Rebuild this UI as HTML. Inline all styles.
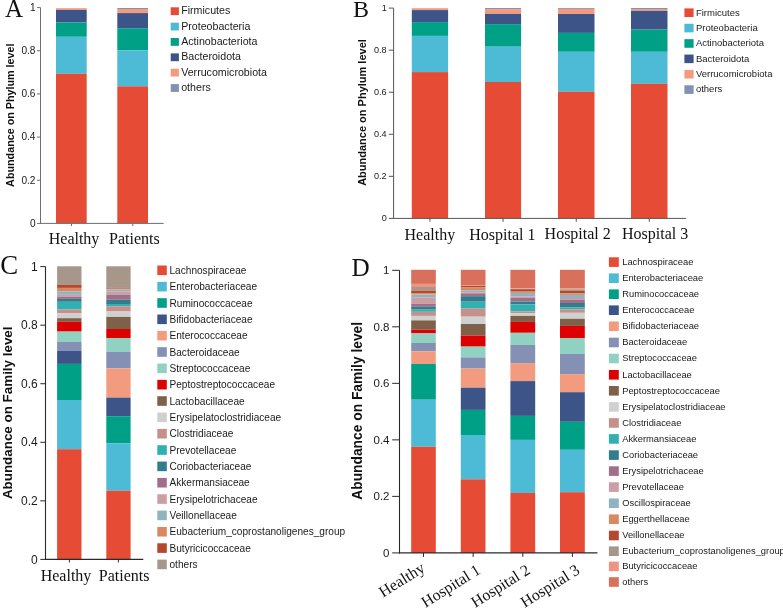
<!DOCTYPE html>
<html><head><meta charset="utf-8"><style>
html,body{margin:0;padding:0;background:#fff;overflow:hidden}
svg{display:block;will-change:transform}
</style></head><body>
<svg width="783" height="608" viewBox="0 0 783 608">
<rect x="0" y="0" width="783" height="608" fill="#fff"/>
<rect x="56.00" y="8.00" width="30.70" height="0.30" fill="#8491B4"/>
<rect x="56.00" y="8.30" width="30.70" height="1.70" fill="#F39B7F"/>
<rect x="56.00" y="10.00" width="30.70" height="12.40" fill="#3C5488"/>
<rect x="56.00" y="22.40" width="30.70" height="14.40" fill="#00A087"/>
<rect x="56.00" y="36.80" width="30.70" height="37.00" fill="#4DBBD5"/>
<rect x="56.00" y="73.80" width="30.70" height="149.60" fill="#E64B35"/>
<rect x="117.30" y="8.00" width="30.70" height="1.00" fill="#8491B4"/>
<rect x="117.30" y="9.00" width="30.70" height="4.10" fill="#F39B7F"/>
<rect x="117.30" y="13.10" width="30.70" height="15.10" fill="#3C5488"/>
<rect x="117.30" y="28.20" width="30.70" height="22.10" fill="#00A087"/>
<rect x="117.30" y="50.30" width="30.70" height="36.00" fill="#4DBBD5"/>
<rect x="117.30" y="86.30" width="30.70" height="137.10" fill="#E64B35"/>
<line x1="40.50" y1="7.60" x2="40.50" y2="223.90" stroke="#6e6e6e" stroke-width="1"/>
<line x1="40.00" y1="223.40" x2="163.70" y2="223.40" stroke="#6e6e6e" stroke-width="1"/>
<line x1="37.00" y1="223.40" x2="40.50" y2="223.40" stroke="#6e6e6e" stroke-width="1"/>
<text x="35.50" y="226.80" font-family="Liberation Sans" font-size="10.1" font-weight="400" text-anchor="end" fill="#1a1a1a" >0</text>
<line x1="37.00" y1="180.24" x2="40.50" y2="180.24" stroke="#6e6e6e" stroke-width="1"/>
<text x="35.50" y="183.64" font-family="Liberation Sans" font-size="10.1" font-weight="400" text-anchor="end" fill="#1a1a1a" >0.2</text>
<line x1="37.00" y1="137.08" x2="40.50" y2="137.08" stroke="#6e6e6e" stroke-width="1"/>
<text x="35.50" y="140.48" font-family="Liberation Sans" font-size="10.1" font-weight="400" text-anchor="end" fill="#1a1a1a" >0.4</text>
<line x1="37.00" y1="93.92" x2="40.50" y2="93.92" stroke="#6e6e6e" stroke-width="1"/>
<text x="35.50" y="97.32" font-family="Liberation Sans" font-size="10.1" font-weight="400" text-anchor="end" fill="#1a1a1a" >0.6</text>
<line x1="37.00" y1="50.76" x2="40.50" y2="50.76" stroke="#6e6e6e" stroke-width="1"/>
<text x="35.50" y="54.16" font-family="Liberation Sans" font-size="10.1" font-weight="400" text-anchor="end" fill="#1a1a1a" >0.8</text>
<line x1="37.00" y1="7.60" x2="40.50" y2="7.60" stroke="#6e6e6e" stroke-width="1"/>
<text x="35.50" y="11.00" font-family="Liberation Sans" font-size="10.1" font-weight="400" text-anchor="end" fill="#1a1a1a" >1</text>
<line x1="71.50" y1="223.40" x2="71.50" y2="226.00" stroke="#6e6e6e" stroke-width="1"/>
<line x1="132.80" y1="223.40" x2="132.80" y2="226.00" stroke="#6e6e6e" stroke-width="1"/>
<text x="74.05" y="243.60" font-family="Liberation Serif" font-size="16" font-weight="400" text-anchor="middle" fill="#111" >Healthy</text>
<text x="134.40" y="243.80" font-family="Liberation Serif" font-size="16" font-weight="400" text-anchor="middle" fill="#111" >Patients</text>
<text x="14.30" y="115.20" font-family="Liberation Sans" font-size="10.75" font-weight="700" text-anchor="middle" fill="#111" transform="rotate(-90 14.3 115.2)">Abundance on Phylum level</text>
<text x="5.00" y="17.40" font-family="Liberation Serif" font-size="25" font-weight="400" text-anchor="start" fill="#111" >A</text>
<rect x="170.70" y="7.30" width="8.20" height="7.80" fill="#E64B35"/>
<text x="181.20" y="14.30" font-family="Liberation Sans" font-size="10.65" font-weight="400" text-anchor="start" fill="#1a1a1a" >Firmicutes</text>
<rect x="170.70" y="22.66" width="8.20" height="7.80" fill="#4DBBD5"/>
<text x="181.20" y="29.66" font-family="Liberation Sans" font-size="10.65" font-weight="400" text-anchor="start" fill="#1a1a1a" >Proteobacteria</text>
<rect x="170.70" y="38.02" width="8.20" height="7.80" fill="#00A087"/>
<text x="181.20" y="45.02" font-family="Liberation Sans" font-size="10.65" font-weight="400" text-anchor="start" fill="#1a1a1a" >Actinobacteriota</text>
<rect x="170.70" y="53.38" width="8.20" height="7.80" fill="#3C5488"/>
<text x="181.20" y="60.38" font-family="Liberation Sans" font-size="10.65" font-weight="400" text-anchor="start" fill="#1a1a1a" >Bacteroidota</text>
<rect x="170.70" y="68.74" width="8.20" height="7.80" fill="#F39B7F"/>
<text x="181.20" y="75.74" font-family="Liberation Sans" font-size="10.65" font-weight="400" text-anchor="start" fill="#1a1a1a" >Verrucomicrobiota</text>
<rect x="170.70" y="84.10" width="8.20" height="7.80" fill="#8491B4"/>
<text x="181.20" y="91.10" font-family="Liberation Sans" font-size="10.65" font-weight="400" text-anchor="start" fill="#1a1a1a" >others</text>
<rect x="411.80" y="8.00" width="36.30" height="0.25" fill="#8491B4"/>
<rect x="411.80" y="8.25" width="36.30" height="1.85" fill="#F39B7F"/>
<rect x="411.80" y="10.10" width="36.30" height="12.00" fill="#3C5488"/>
<rect x="411.80" y="22.10" width="36.30" height="13.80" fill="#00A087"/>
<rect x="411.80" y="35.90" width="36.30" height="36.20" fill="#4DBBD5"/>
<rect x="411.80" y="72.10" width="36.30" height="146.30" fill="#E64B35"/>
<rect x="485.00" y="8.00" width="36.10" height="1.10" fill="#8491B4"/>
<rect x="485.00" y="9.10" width="36.10" height="4.80" fill="#F39B7F"/>
<rect x="485.00" y="13.90" width="36.10" height="10.20" fill="#3C5488"/>
<rect x="485.00" y="24.10" width="36.10" height="22.60" fill="#00A087"/>
<rect x="485.00" y="46.70" width="36.10" height="35.30" fill="#4DBBD5"/>
<rect x="485.00" y="82.00" width="36.10" height="136.40" fill="#E64B35"/>
<rect x="558.00" y="8.00" width="36.50" height="0.90" fill="#8491B4"/>
<rect x="558.00" y="8.90" width="36.50" height="5.10" fill="#F39B7F"/>
<rect x="558.00" y="14.00" width="36.50" height="18.90" fill="#3C5488"/>
<rect x="558.00" y="32.90" width="36.50" height="18.90" fill="#00A087"/>
<rect x="558.00" y="51.80" width="36.50" height="40.00" fill="#4DBBD5"/>
<rect x="558.00" y="91.80" width="36.50" height="126.60" fill="#E64B35"/>
<rect x="631.00" y="8.00" width="36.50" height="1.00" fill="#8491B4"/>
<rect x="631.00" y="9.00" width="36.50" height="1.80" fill="#F39B7F"/>
<rect x="631.00" y="10.80" width="36.50" height="18.80" fill="#3C5488"/>
<rect x="631.00" y="29.60" width="36.50" height="22.20" fill="#00A087"/>
<rect x="631.00" y="51.80" width="36.50" height="32.00" fill="#4DBBD5"/>
<rect x="631.00" y="83.80" width="36.50" height="134.60" fill="#E64B35"/>
<line x1="393.60" y1="8.10" x2="393.60" y2="218.90" stroke="#555555" stroke-width="1"/>
<line x1="393.10" y1="218.40" x2="685.90" y2="218.40" stroke="#555555" stroke-width="1"/>
<line x1="388.80" y1="218.40" x2="393.60" y2="218.40" stroke="#555555" stroke-width="1"/>
<text x="386.70" y="221.30" font-family="Liberation Sans" font-size="9.1" font-weight="400" text-anchor="end" fill="#1a1a1a" >0</text>
<line x1="388.80" y1="176.34" x2="393.60" y2="176.34" stroke="#555555" stroke-width="1"/>
<text x="386.70" y="179.24" font-family="Liberation Sans" font-size="9.1" font-weight="400" text-anchor="end" fill="#1a1a1a" >0.2</text>
<line x1="388.80" y1="134.28" x2="393.60" y2="134.28" stroke="#555555" stroke-width="1"/>
<text x="386.70" y="137.18" font-family="Liberation Sans" font-size="9.1" font-weight="400" text-anchor="end" fill="#1a1a1a" >0.4</text>
<line x1="388.80" y1="92.22" x2="393.60" y2="92.22" stroke="#555555" stroke-width="1"/>
<text x="386.70" y="95.12" font-family="Liberation Sans" font-size="9.1" font-weight="400" text-anchor="end" fill="#1a1a1a" >0.6</text>
<line x1="388.80" y1="50.16" x2="393.60" y2="50.16" stroke="#555555" stroke-width="1"/>
<text x="386.70" y="53.06" font-family="Liberation Sans" font-size="9.1" font-weight="400" text-anchor="end" fill="#1a1a1a" >0.8</text>
<line x1="388.80" y1="8.10" x2="393.60" y2="8.10" stroke="#555555" stroke-width="1"/>
<text x="386.70" y="11.00" font-family="Liberation Sans" font-size="9.1" font-weight="400" text-anchor="end" fill="#1a1a1a" >1</text>
<line x1="429.95" y1="218.40" x2="429.95" y2="221.80" stroke="#555555" stroke-width="1"/>
<line x1="503.05" y1="218.40" x2="503.05" y2="221.80" stroke="#555555" stroke-width="1"/>
<line x1="576.25" y1="218.40" x2="576.25" y2="221.80" stroke="#555555" stroke-width="1"/>
<line x1="649.25" y1="218.40" x2="649.25" y2="221.80" stroke="#555555" stroke-width="1"/>
<text x="429.90" y="239.80" font-family="Liberation Serif" font-size="16" font-weight="400" text-anchor="middle" fill="#111" >Healthy</text>
<text x="502.35" y="240.30" font-family="Liberation Serif" font-size="16" font-weight="400" text-anchor="middle" fill="#111" >Hospital 1</text>
<text x="577.70" y="239.30" font-family="Liberation Serif" font-size="16" font-weight="400" text-anchor="middle" fill="#111" >Hospital 2</text>
<text x="655.10" y="238.60" font-family="Liberation Serif" font-size="16" font-weight="400" text-anchor="middle" fill="#111" >Hospital 3</text>
<text x="365.60" y="112.50" font-family="Liberation Sans" font-size="11.0" font-weight="700" text-anchor="middle" fill="#111" transform="rotate(-90 365.6 112.5)">Abundance on Phylum level</text>
<text x="353.00" y="17.30" font-family="Liberation Serif" font-size="24" font-weight="400" text-anchor="start" fill="#111" >B</text>
<rect x="684.40" y="8.40" width="9.20" height="8.60" fill="#E64B35"/>
<text x="695.90" y="15.50" font-family="Liberation Sans" font-size="9.5" font-weight="400" text-anchor="start" fill="#1a1a1a" >Firmicutes</text>
<rect x="684.40" y="23.78" width="9.20" height="8.60" fill="#4DBBD5"/>
<text x="695.90" y="30.88" font-family="Liberation Sans" font-size="9.5" font-weight="400" text-anchor="start" fill="#1a1a1a" >Proteobacteria</text>
<rect x="684.40" y="39.16" width="9.20" height="8.60" fill="#00A087"/>
<text x="695.90" y="46.26" font-family="Liberation Sans" font-size="9.5" font-weight="400" text-anchor="start" fill="#1a1a1a" >Actinobacteriota</text>
<rect x="684.40" y="54.54" width="9.20" height="8.60" fill="#3C5488"/>
<text x="695.90" y="61.64" font-family="Liberation Sans" font-size="9.5" font-weight="400" text-anchor="start" fill="#1a1a1a" >Bacteroidota</text>
<rect x="684.40" y="69.92" width="9.20" height="8.60" fill="#F39B7F"/>
<text x="695.90" y="77.02" font-family="Liberation Sans" font-size="9.5" font-weight="400" text-anchor="start" fill="#1a1a1a" >Verrucomicrobiota</text>
<rect x="684.40" y="85.30" width="9.20" height="8.60" fill="#8491B4"/>
<text x="695.90" y="92.40" font-family="Liberation Sans" font-size="9.5" font-weight="400" text-anchor="start" fill="#1a1a1a" >others</text>
<rect x="57.10" y="266.30" width="24.40" height="18.60" fill="#A7978A"/>
<rect x="57.10" y="284.90" width="24.40" height="3.00" fill="#B5472D"/>
<rect x="57.10" y="287.90" width="24.40" height="3.60" fill="#D98962"/>
<rect x="57.10" y="291.50" width="24.40" height="3.30" fill="#8FB3C2"/>
<rect x="57.10" y="294.80" width="24.40" height="2.00" fill="#CC9DA3"/>
<rect x="57.10" y="296.80" width="24.40" height="2.10" fill="#A0708A"/>
<rect x="57.10" y="298.90" width="24.40" height="2.90" fill="#347B8C"/>
<rect x="57.10" y="301.80" width="24.40" height="7.60" fill="#30B0B0"/>
<rect x="57.10" y="309.40" width="24.40" height="4.00" fill="#C4908A"/>
<rect x="57.10" y="313.40" width="24.40" height="4.80" fill="#D0D0D0"/>
<rect x="57.10" y="318.20" width="24.40" height="3.60" fill="#7E6148"/>
<rect x="57.10" y="321.80" width="24.40" height="9.80" fill="#DC0000"/>
<rect x="57.10" y="331.60" width="24.40" height="10.40" fill="#91D1C2"/>
<rect x="57.10" y="342.00" width="24.40" height="8.90" fill="#8491B4"/>
<rect x="57.10" y="350.90" width="24.40" height="13.00" fill="#3C5488"/>
<rect x="57.10" y="363.90" width="24.40" height="36.10" fill="#00A087"/>
<rect x="57.10" y="400.00" width="24.40" height="49.20" fill="#4DBBD5"/>
<rect x="57.10" y="449.20" width="24.40" height="110.20" fill="#E64B35"/>
<rect x="106.30" y="266.30" width="24.30" height="21.40" fill="#A7978A"/>
<rect x="106.30" y="287.70" width="24.30" height="1.00" fill="#B5472D"/>
<rect x="106.30" y="288.70" width="24.30" height="0.80" fill="#D98962"/>
<rect x="106.30" y="289.50" width="24.30" height="1.90" fill="#8FB3C2"/>
<rect x="106.30" y="291.40" width="24.30" height="3.50" fill="#CC9DA3"/>
<rect x="106.30" y="294.90" width="24.30" height="4.80" fill="#A0708A"/>
<rect x="106.30" y="299.70" width="24.30" height="4.30" fill="#347B8C"/>
<rect x="106.30" y="304.00" width="24.30" height="2.20" fill="#30B0B0"/>
<rect x="106.30" y="306.20" width="24.30" height="5.30" fill="#C4908A"/>
<rect x="106.30" y="311.50" width="24.30" height="5.40" fill="#D0D0D0"/>
<rect x="106.30" y="316.90" width="24.30" height="12.10" fill="#7E6148"/>
<rect x="106.30" y="329.00" width="24.30" height="9.00" fill="#DC0000"/>
<rect x="106.30" y="338.00" width="24.30" height="14.00" fill="#91D1C2"/>
<rect x="106.30" y="352.00" width="24.30" height="16.40" fill="#8491B4"/>
<rect x="106.30" y="368.40" width="24.30" height="29.20" fill="#F39B7F"/>
<rect x="106.30" y="397.60" width="24.30" height="18.60" fill="#3C5488"/>
<rect x="106.30" y="416.20" width="24.30" height="27.10" fill="#00A087"/>
<rect x="106.30" y="443.30" width="24.30" height="47.40" fill="#4DBBD5"/>
<rect x="106.30" y="490.70" width="24.30" height="68.70" fill="#E64B35"/>
<line x1="45.50" y1="266.60" x2="45.50" y2="559.90" stroke="#2a2a2a" stroke-width="1.1"/>
<line x1="45.00" y1="559.40" x2="143.30" y2="559.40" stroke="#2a2a2a" stroke-width="1.1"/>
<line x1="40.30" y1="559.40" x2="45.50" y2="559.40" stroke="#2a2a2a" stroke-width="1"/>
<text x="37.80" y="563.50" font-family="Liberation Sans" font-size="12" font-weight="400" text-anchor="end" fill="#1a1a1a" >0</text>
<line x1="40.30" y1="500.84" x2="45.50" y2="500.84" stroke="#2a2a2a" stroke-width="1"/>
<text x="37.80" y="504.94" font-family="Liberation Sans" font-size="12" font-weight="400" text-anchor="end" fill="#1a1a1a" >0.2</text>
<line x1="40.30" y1="442.28" x2="45.50" y2="442.28" stroke="#2a2a2a" stroke-width="1"/>
<text x="37.80" y="446.38" font-family="Liberation Sans" font-size="12" font-weight="400" text-anchor="end" fill="#1a1a1a" >0.4</text>
<line x1="40.30" y1="383.72" x2="45.50" y2="383.72" stroke="#2a2a2a" stroke-width="1"/>
<text x="37.80" y="387.82" font-family="Liberation Sans" font-size="12" font-weight="400" text-anchor="end" fill="#1a1a1a" >0.6</text>
<line x1="40.30" y1="325.16" x2="45.50" y2="325.16" stroke="#2a2a2a" stroke-width="1"/>
<text x="37.80" y="329.26" font-family="Liberation Sans" font-size="12" font-weight="400" text-anchor="end" fill="#1a1a1a" >0.8</text>
<line x1="40.30" y1="266.60" x2="45.50" y2="266.60" stroke="#2a2a2a" stroke-width="1"/>
<text x="37.80" y="270.70" font-family="Liberation Sans" font-size="12" font-weight="400" text-anchor="end" fill="#1a1a1a" >1</text>
<line x1="69.40" y1="559.40" x2="69.40" y2="562.40" stroke="#2a2a2a" stroke-width="1"/>
<line x1="118.40" y1="559.40" x2="118.40" y2="562.40" stroke="#2a2a2a" stroke-width="1"/>
<text x="66.00" y="580.70" font-family="Liberation Serif" font-size="16" font-weight="400" text-anchor="middle" fill="#111" >Healthy</text>
<text x="124.10" y="580.70" font-family="Liberation Serif" font-size="16" font-weight="400" text-anchor="middle" fill="#111" >Patients</text>
<text x="12.30" y="412.80" font-family="Liberation Sans" font-size="13.4" font-weight="700" text-anchor="middle" fill="#111" transform="rotate(-90 12.3 412.8)">Abundance on Family level</text>
<text x="0.30" y="274.40" font-family="Liberation Serif" font-size="26.8" font-weight="400" text-anchor="start" fill="#111" >C</text>
<rect x="157.30" y="265.50" width="9.50" height="9.60" fill="#E64B35"/>
<text x="169.50" y="273.90" font-family="Liberation Sans" font-size="10.1" font-weight="400" text-anchor="start" fill="#1a1a1a" >Lachnospiraceae</text>
<rect x="157.30" y="281.84" width="9.50" height="9.60" fill="#4DBBD5"/>
<text x="169.50" y="290.24" font-family="Liberation Sans" font-size="10.1" font-weight="400" text-anchor="start" fill="#1a1a1a" >Enterobacteriaceae</text>
<rect x="157.30" y="298.18" width="9.50" height="9.60" fill="#00A087"/>
<text x="169.50" y="306.58" font-family="Liberation Sans" font-size="10.1" font-weight="400" text-anchor="start" fill="#1a1a1a" >Ruminococcaceae</text>
<rect x="157.30" y="314.52" width="9.50" height="9.60" fill="#3C5488"/>
<text x="169.50" y="322.92" font-family="Liberation Sans" font-size="10.1" font-weight="400" text-anchor="start" fill="#1a1a1a" >Bifidobacteriaceae</text>
<rect x="157.30" y="330.86" width="9.50" height="9.60" fill="#F39B7F"/>
<text x="169.50" y="339.26" font-family="Liberation Sans" font-size="10.1" font-weight="400" text-anchor="start" fill="#1a1a1a" >Enterococcaceae</text>
<rect x="157.30" y="347.20" width="9.50" height="9.60" fill="#8491B4"/>
<text x="169.50" y="355.60" font-family="Liberation Sans" font-size="10.1" font-weight="400" text-anchor="start" fill="#1a1a1a" >Bacteroidaceae</text>
<rect x="157.30" y="363.54" width="9.50" height="9.60" fill="#91D1C2"/>
<text x="169.50" y="371.94" font-family="Liberation Sans" font-size="10.1" font-weight="400" text-anchor="start" fill="#1a1a1a" >Streptococcaceae</text>
<rect x="157.30" y="379.88" width="9.50" height="9.60" fill="#DC0000"/>
<text x="169.50" y="388.28" font-family="Liberation Sans" font-size="10.1" font-weight="400" text-anchor="start" fill="#1a1a1a" >Peptostreptococcaceae</text>
<rect x="157.30" y="396.22" width="9.50" height="9.60" fill="#7E6148"/>
<text x="169.50" y="404.62" font-family="Liberation Sans" font-size="10.1" font-weight="400" text-anchor="start" fill="#1a1a1a" >Lactobacillaceae</text>
<rect x="157.30" y="412.56" width="9.50" height="9.60" fill="#D0D0D0"/>
<text x="169.50" y="420.96" font-family="Liberation Sans" font-size="10.1" font-weight="400" text-anchor="start" fill="#1a1a1a" >Erysipelatoclostridiaceae</text>
<rect x="157.30" y="428.90" width="9.50" height="9.60" fill="#C4908A"/>
<text x="169.50" y="437.30" font-family="Liberation Sans" font-size="10.1" font-weight="400" text-anchor="start" fill="#1a1a1a" >Clostridiaceae</text>
<rect x="157.30" y="445.24" width="9.50" height="9.60" fill="#30B0B0"/>
<text x="169.50" y="453.64" font-family="Liberation Sans" font-size="10.1" font-weight="400" text-anchor="start" fill="#1a1a1a" >Prevotellaceae</text>
<rect x="157.30" y="461.58" width="9.50" height="9.60" fill="#347B8C"/>
<text x="169.50" y="469.98" font-family="Liberation Sans" font-size="10.1" font-weight="400" text-anchor="start" fill="#1a1a1a" >Coriobacteriaceae</text>
<rect x="157.30" y="477.92" width="9.50" height="9.60" fill="#A0708A"/>
<text x="169.50" y="486.32" font-family="Liberation Sans" font-size="10.1" font-weight="400" text-anchor="start" fill="#1a1a1a" >Akkermansiaceae</text>
<rect x="157.30" y="494.26" width="9.50" height="9.60" fill="#CC9DA3"/>
<text x="169.50" y="502.66" font-family="Liberation Sans" font-size="10.1" font-weight="400" text-anchor="start" fill="#1a1a1a" >Erysipelotrichaceae</text>
<rect x="157.30" y="510.60" width="9.50" height="9.60" fill="#8FB3C2"/>
<text x="169.50" y="519.00" font-family="Liberation Sans" font-size="10.1" font-weight="400" text-anchor="start" fill="#1a1a1a" >Veillonellaceae</text>
<rect x="157.30" y="526.94" width="9.50" height="9.60" fill="#D98962"/>
<text x="169.50" y="535.34" font-family="Liberation Sans" font-size="10.1" font-weight="400" text-anchor="start" fill="#1a1a1a" >Eubacterium_coprostanoligenes_group</text>
<rect x="157.30" y="543.28" width="9.50" height="9.60" fill="#B5472D"/>
<text x="169.50" y="551.68" font-family="Liberation Sans" font-size="10.1" font-weight="400" text-anchor="start" fill="#1a1a1a" >Butyricicoccaceae</text>
<rect x="157.30" y="559.62" width="9.50" height="9.60" fill="#A7978A"/>
<text x="169.50" y="568.02" font-family="Liberation Sans" font-size="10.1" font-weight="400" text-anchor="start" fill="#1a1a1a" >others</text>
<rect x="411.20" y="269.80" width="24.60" height="14.10" fill="#D8705C"/>
<rect x="411.20" y="283.90" width="24.60" height="3.10" fill="#EE9483"/>
<rect x="411.20" y="287.00" width="24.60" height="3.60" fill="#A7978A"/>
<rect x="411.20" y="290.60" width="24.60" height="2.50" fill="#B5472D"/>
<rect x="411.20" y="293.10" width="24.60" height="1.40" fill="#D98962"/>
<rect x="411.20" y="294.50" width="24.60" height="2.80" fill="#8FB3C2"/>
<rect x="411.20" y="297.30" width="24.60" height="6.40" fill="#CC9DA3"/>
<rect x="411.20" y="303.70" width="24.60" height="3.10" fill="#A0708A"/>
<rect x="411.20" y="306.80" width="24.60" height="2.80" fill="#347B8C"/>
<rect x="411.20" y="309.60" width="24.60" height="2.20" fill="#30B0B0"/>
<rect x="411.20" y="311.80" width="24.60" height="4.10" fill="#C4908A"/>
<rect x="411.20" y="315.90" width="24.60" height="4.50" fill="#D0D0D0"/>
<rect x="411.20" y="320.40" width="24.60" height="9.30" fill="#7E6148"/>
<rect x="411.20" y="329.70" width="24.60" height="3.70" fill="#DC0000"/>
<rect x="411.20" y="333.40" width="24.60" height="9.60" fill="#91D1C2"/>
<rect x="411.20" y="343.00" width="24.60" height="8.30" fill="#8491B4"/>
<rect x="411.20" y="351.30" width="24.60" height="12.70" fill="#F39B7F"/>
<rect x="411.20" y="364.00" width="24.60" height="35.70" fill="#00A087"/>
<rect x="411.20" y="399.70" width="24.60" height="47.10" fill="#4DBBD5"/>
<rect x="411.20" y="446.80" width="24.60" height="106.10" fill="#E64B35"/>
<rect x="460.80" y="269.80" width="24.70" height="15.40" fill="#D8705C"/>
<rect x="460.80" y="285.20" width="24.70" height="0.40" fill="#EE9483"/>
<rect x="460.80" y="285.60" width="24.70" height="0.20" fill="#A7978A"/>
<rect x="460.80" y="285.80" width="24.70" height="1.30" fill="#B5472D"/>
<rect x="460.80" y="287.10" width="24.70" height="3.20" fill="#D98962"/>
<rect x="460.80" y="290.30" width="24.70" height="2.00" fill="#8FB3C2"/>
<rect x="460.80" y="292.30" width="24.70" height="1.00" fill="#CC9DA3"/>
<rect x="460.80" y="293.30" width="24.70" height="2.90" fill="#A0708A"/>
<rect x="460.80" y="296.20" width="24.70" height="5.50" fill="#347B8C"/>
<rect x="460.80" y="301.70" width="24.70" height="6.90" fill="#30B0B0"/>
<rect x="460.80" y="308.60" width="24.70" height="8.10" fill="#C4908A"/>
<rect x="460.80" y="316.70" width="24.70" height="7.30" fill="#D0D0D0"/>
<rect x="460.80" y="324.00" width="24.70" height="11.50" fill="#7E6148"/>
<rect x="460.80" y="335.50" width="24.70" height="11.10" fill="#DC0000"/>
<rect x="460.80" y="346.60" width="24.70" height="10.80" fill="#91D1C2"/>
<rect x="460.80" y="357.40" width="24.70" height="11.20" fill="#8491B4"/>
<rect x="460.80" y="368.60" width="24.70" height="19.10" fill="#F39B7F"/>
<rect x="460.80" y="387.70" width="24.70" height="22.20" fill="#3C5488"/>
<rect x="460.80" y="409.90" width="24.70" height="25.10" fill="#00A087"/>
<rect x="460.80" y="435.00" width="24.70" height="44.30" fill="#4DBBD5"/>
<rect x="460.80" y="479.30" width="24.70" height="73.60" fill="#E64B35"/>
<rect x="510.40" y="269.80" width="24.80" height="18.40" fill="#D8705C"/>
<rect x="510.40" y="288.20" width="24.80" height="0.60" fill="#EE9483"/>
<rect x="510.40" y="288.80" width="24.80" height="0.40" fill="#A7978A"/>
<rect x="510.40" y="289.20" width="24.80" height="1.80" fill="#B5472D"/>
<rect x="510.40" y="291.00" width="24.80" height="1.90" fill="#D98962"/>
<rect x="510.40" y="292.90" width="24.80" height="3.40" fill="#8FB3C2"/>
<rect x="510.40" y="296.30" width="24.80" height="1.40" fill="#CC9DA3"/>
<rect x="510.40" y="297.70" width="24.80" height="3.90" fill="#A0708A"/>
<rect x="510.40" y="301.60" width="24.80" height="2.80" fill="#347B8C"/>
<rect x="510.40" y="304.40" width="24.80" height="7.00" fill="#30B0B0"/>
<rect x="510.40" y="311.40" width="24.80" height="1.90" fill="#C4908A"/>
<rect x="510.40" y="313.30" width="24.80" height="2.60" fill="#D0D0D0"/>
<rect x="510.40" y="315.90" width="24.80" height="6.00" fill="#7E6148"/>
<rect x="510.40" y="321.90" width="24.80" height="10.90" fill="#DC0000"/>
<rect x="510.40" y="332.80" width="24.80" height="12.10" fill="#91D1C2"/>
<rect x="510.40" y="344.90" width="24.80" height="18.20" fill="#8491B4"/>
<rect x="510.40" y="363.10" width="24.80" height="18.00" fill="#F39B7F"/>
<rect x="510.40" y="381.10" width="24.80" height="34.80" fill="#3C5488"/>
<rect x="510.40" y="415.90" width="24.80" height="24.00" fill="#00A087"/>
<rect x="510.40" y="439.90" width="24.80" height="53.00" fill="#4DBBD5"/>
<rect x="510.40" y="492.90" width="24.80" height="60.00" fill="#E64B35"/>
<rect x="560.00" y="269.80" width="24.80" height="18.80" fill="#D8705C"/>
<rect x="560.00" y="288.60" width="24.80" height="0.70" fill="#EE9483"/>
<rect x="560.00" y="289.30" width="24.80" height="1.70" fill="#A7978A"/>
<rect x="560.00" y="291.00" width="24.80" height="2.20" fill="#B5472D"/>
<rect x="560.00" y="293.20" width="24.80" height="1.70" fill="#D98962"/>
<rect x="560.00" y="294.90" width="24.80" height="3.10" fill="#8FB3C2"/>
<rect x="560.00" y="298.00" width="24.80" height="1.90" fill="#CC9DA3"/>
<rect x="560.00" y="299.90" width="24.80" height="3.10" fill="#A0708A"/>
<rect x="560.00" y="303.00" width="24.80" height="4.50" fill="#347B8C"/>
<rect x="560.00" y="307.50" width="24.80" height="1.90" fill="#30B0B0"/>
<rect x="560.00" y="309.40" width="24.80" height="3.40" fill="#C4908A"/>
<rect x="560.00" y="312.80" width="24.80" height="6.00" fill="#D0D0D0"/>
<rect x="560.00" y="318.80" width="24.80" height="7.10" fill="#7E6148"/>
<rect x="560.00" y="325.90" width="24.80" height="12.10" fill="#DC0000"/>
<rect x="560.00" y="338.00" width="24.80" height="15.90" fill="#91D1C2"/>
<rect x="560.00" y="353.90" width="24.80" height="20.20" fill="#8491B4"/>
<rect x="560.00" y="374.10" width="24.80" height="18.10" fill="#F39B7F"/>
<rect x="560.00" y="392.20" width="24.80" height="29.60" fill="#3C5488"/>
<rect x="560.00" y="421.80" width="24.80" height="28.00" fill="#00A087"/>
<rect x="560.00" y="449.80" width="24.80" height="42.40" fill="#4DBBD5"/>
<rect x="560.00" y="492.20" width="24.80" height="60.70" fill="#E64B35"/>
<line x1="399.50" y1="270.30" x2="399.50" y2="553.40" stroke="#2a2a2a" stroke-width="1.1"/>
<line x1="399.00" y1="552.90" x2="597.50" y2="552.90" stroke="#2a2a2a" stroke-width="1.3"/>
<line x1="392.20" y1="552.90" x2="399.50" y2="552.90" stroke="#2a2a2a" stroke-width="1"/>
<text x="389.50" y="556.90" font-family="Liberation Sans" font-size="11.5" font-weight="400" text-anchor="end" fill="#1a1a1a" >0</text>
<line x1="392.20" y1="496.38" x2="399.50" y2="496.38" stroke="#2a2a2a" stroke-width="1"/>
<text x="389.50" y="500.38" font-family="Liberation Sans" font-size="11.5" font-weight="400" text-anchor="end" fill="#1a1a1a" >0.2</text>
<line x1="392.20" y1="439.86" x2="399.50" y2="439.86" stroke="#2a2a2a" stroke-width="1"/>
<text x="389.50" y="443.86" font-family="Liberation Sans" font-size="11.5" font-weight="400" text-anchor="end" fill="#1a1a1a" >0.4</text>
<line x1="392.20" y1="383.34" x2="399.50" y2="383.34" stroke="#2a2a2a" stroke-width="1"/>
<text x="389.50" y="387.34" font-family="Liberation Sans" font-size="11.5" font-weight="400" text-anchor="end" fill="#1a1a1a" >0.6</text>
<line x1="392.20" y1="326.82" x2="399.50" y2="326.82" stroke="#2a2a2a" stroke-width="1"/>
<text x="389.50" y="330.82" font-family="Liberation Sans" font-size="11.5" font-weight="400" text-anchor="end" fill="#1a1a1a" >0.8</text>
<line x1="392.20" y1="270.30" x2="399.50" y2="270.30" stroke="#2a2a2a" stroke-width="1"/>
<text x="389.50" y="274.30" font-family="Liberation Sans" font-size="11.5" font-weight="400" text-anchor="end" fill="#1a1a1a" >1</text>
<line x1="423.50" y1="552.90" x2="423.50" y2="556.90" stroke="#2a2a2a" stroke-width="1"/>
<text x="426.00" y="570.80" font-family="Liberation Serif" font-size="16" font-weight="400" text-anchor="end" fill="#111" transform="rotate(-32 426.0 570.8)">Healthy</text>
<line x1="473.15" y1="552.90" x2="473.15" y2="556.90" stroke="#2a2a2a" stroke-width="1"/>
<text x="481.65" y="572.80" font-family="Liberation Serif" font-size="16" font-weight="400" text-anchor="end" fill="#111" transform="rotate(-32 481.65 572.8)">Hospital 1</text>
<line x1="522.80" y1="552.90" x2="522.80" y2="556.90" stroke="#2a2a2a" stroke-width="1"/>
<text x="531.30" y="572.80" font-family="Liberation Serif" font-size="16" font-weight="400" text-anchor="end" fill="#111" transform="rotate(-32 531.3 572.8)">Hospital 2</text>
<line x1="572.40" y1="552.90" x2="572.40" y2="556.90" stroke="#2a2a2a" stroke-width="1"/>
<text x="580.90" y="572.80" font-family="Liberation Serif" font-size="16" font-weight="400" text-anchor="end" fill="#111" transform="rotate(-32 580.9 572.8)">Hospital 3</text>
<text x="362.30" y="410.80" font-family="Liberation Sans" font-size="13.8" font-weight="700" text-anchor="middle" fill="#111" transform="rotate(-90 362.3 410.8)">Abundance on Family level</text>
<text x="351.50" y="276.40" font-family="Liberation Serif" font-size="25.2" font-weight="400" text-anchor="start" fill="#111" >D</text>
<rect x="608.90" y="257.30" width="9.90" height="9.60" fill="#E64B35"/>
<text x="622.20" y="264.90" font-family="Liberation Sans" font-size="9.35" font-weight="400" text-anchor="start" fill="#1a1a1a" >Lachnospiraceae</text>
<rect x="608.90" y="273.40" width="9.90" height="9.60" fill="#4DBBD5"/>
<text x="622.20" y="281.00" font-family="Liberation Sans" font-size="9.35" font-weight="400" text-anchor="start" fill="#1a1a1a" >Enterobacteriaceae</text>
<rect x="608.90" y="289.40" width="9.90" height="9.60" fill="#00A087"/>
<text x="622.20" y="297.00" font-family="Liberation Sans" font-size="9.35" font-weight="400" text-anchor="start" fill="#1a1a1a" >Ruminococcaceae</text>
<rect x="608.90" y="305.40" width="9.90" height="9.60" fill="#3C5488"/>
<text x="622.20" y="313.00" font-family="Liberation Sans" font-size="9.35" font-weight="400" text-anchor="start" fill="#1a1a1a" >Enterococcaceae</text>
<rect x="608.90" y="321.50" width="9.90" height="9.60" fill="#F39B7F"/>
<text x="622.20" y="329.10" font-family="Liberation Sans" font-size="9.35" font-weight="400" text-anchor="start" fill="#1a1a1a" >Bifidobacteriaceae</text>
<rect x="608.90" y="337.70" width="9.90" height="9.60" fill="#8491B4"/>
<text x="622.20" y="345.30" font-family="Liberation Sans" font-size="9.35" font-weight="400" text-anchor="start" fill="#1a1a1a" >Bacteroidaceae</text>
<rect x="608.90" y="353.70" width="9.90" height="9.60" fill="#91D1C2"/>
<text x="622.20" y="361.30" font-family="Liberation Sans" font-size="9.35" font-weight="400" text-anchor="start" fill="#1a1a1a" >Streptococcaceae</text>
<rect x="608.90" y="370.00" width="9.90" height="9.60" fill="#DC0000"/>
<text x="622.20" y="377.60" font-family="Liberation Sans" font-size="9.35" font-weight="400" text-anchor="start" fill="#1a1a1a" >Lactobacillaceae</text>
<rect x="608.90" y="386.00" width="9.90" height="9.60" fill="#7E6148"/>
<text x="622.20" y="393.60" font-family="Liberation Sans" font-size="9.35" font-weight="400" text-anchor="start" fill="#1a1a1a" >Peptostreptococcaceae</text>
<rect x="608.90" y="402.10" width="9.90" height="9.60" fill="#D0D0D0"/>
<text x="622.20" y="409.70" font-family="Liberation Sans" font-size="9.35" font-weight="400" text-anchor="start" fill="#1a1a1a" >Erysipelatoclostridiaceae</text>
<rect x="608.90" y="418.15" width="9.90" height="9.60" fill="#C4908A"/>
<text x="622.20" y="425.75" font-family="Liberation Sans" font-size="9.35" font-weight="400" text-anchor="start" fill="#1a1a1a" >Clostridiaceae</text>
<rect x="608.90" y="434.10" width="9.90" height="9.60" fill="#30B0B0"/>
<text x="622.20" y="441.70" font-family="Liberation Sans" font-size="9.35" font-weight="400" text-anchor="start" fill="#1a1a1a" >Akkermansiaceae</text>
<rect x="608.90" y="450.30" width="9.90" height="9.60" fill="#347B8C"/>
<text x="622.20" y="457.90" font-family="Liberation Sans" font-size="9.35" font-weight="400" text-anchor="start" fill="#1a1a1a" >Coriobacteriaceae</text>
<rect x="608.90" y="466.30" width="9.90" height="9.60" fill="#A0708A"/>
<text x="622.20" y="473.90" font-family="Liberation Sans" font-size="9.35" font-weight="400" text-anchor="start" fill="#1a1a1a" >Erysipelotrichaceae</text>
<rect x="608.90" y="482.30" width="9.90" height="9.60" fill="#CC9DA3"/>
<text x="622.20" y="489.90" font-family="Liberation Sans" font-size="9.35" font-weight="400" text-anchor="start" fill="#1a1a1a" >Prevotellaceae</text>
<rect x="608.90" y="498.45" width="9.90" height="9.60" fill="#8FB3C2"/>
<text x="622.20" y="506.05" font-family="Liberation Sans" font-size="9.35" font-weight="400" text-anchor="start" fill="#1a1a1a" >Oscillospiraceae</text>
<rect x="608.90" y="514.40" width="9.90" height="9.60" fill="#D98962"/>
<text x="622.20" y="522.00" font-family="Liberation Sans" font-size="9.35" font-weight="400" text-anchor="start" fill="#1a1a1a" >Eggerthellaceae</text>
<rect x="608.90" y="530.70" width="9.90" height="9.60" fill="#B5472D"/>
<text x="622.20" y="538.30" font-family="Liberation Sans" font-size="9.35" font-weight="400" text-anchor="start" fill="#1a1a1a" >Veillonellaceae</text>
<rect x="608.90" y="546.40" width="9.90" height="9.60" fill="#A7978A"/>
<text x="622.20" y="554.00" font-family="Liberation Sans" font-size="9.35" font-weight="400" text-anchor="start" fill="#1a1a1a" >Eubacterium_coprostanoligenes_group</text>
<rect x="608.90" y="561.60" width="9.90" height="9.60" fill="#EE9483"/>
<text x="622.20" y="569.20" font-family="Liberation Sans" font-size="9.35" font-weight="400" text-anchor="start" fill="#1a1a1a" >Butyricicoccaceae</text>
<rect x="608.90" y="577.20" width="9.90" height="9.60" fill="#D8705C"/>
<text x="622.20" y="584.80" font-family="Liberation Sans" font-size="9.35" font-weight="400" text-anchor="start" fill="#1a1a1a" >others</text>
</svg>
</body></html>
